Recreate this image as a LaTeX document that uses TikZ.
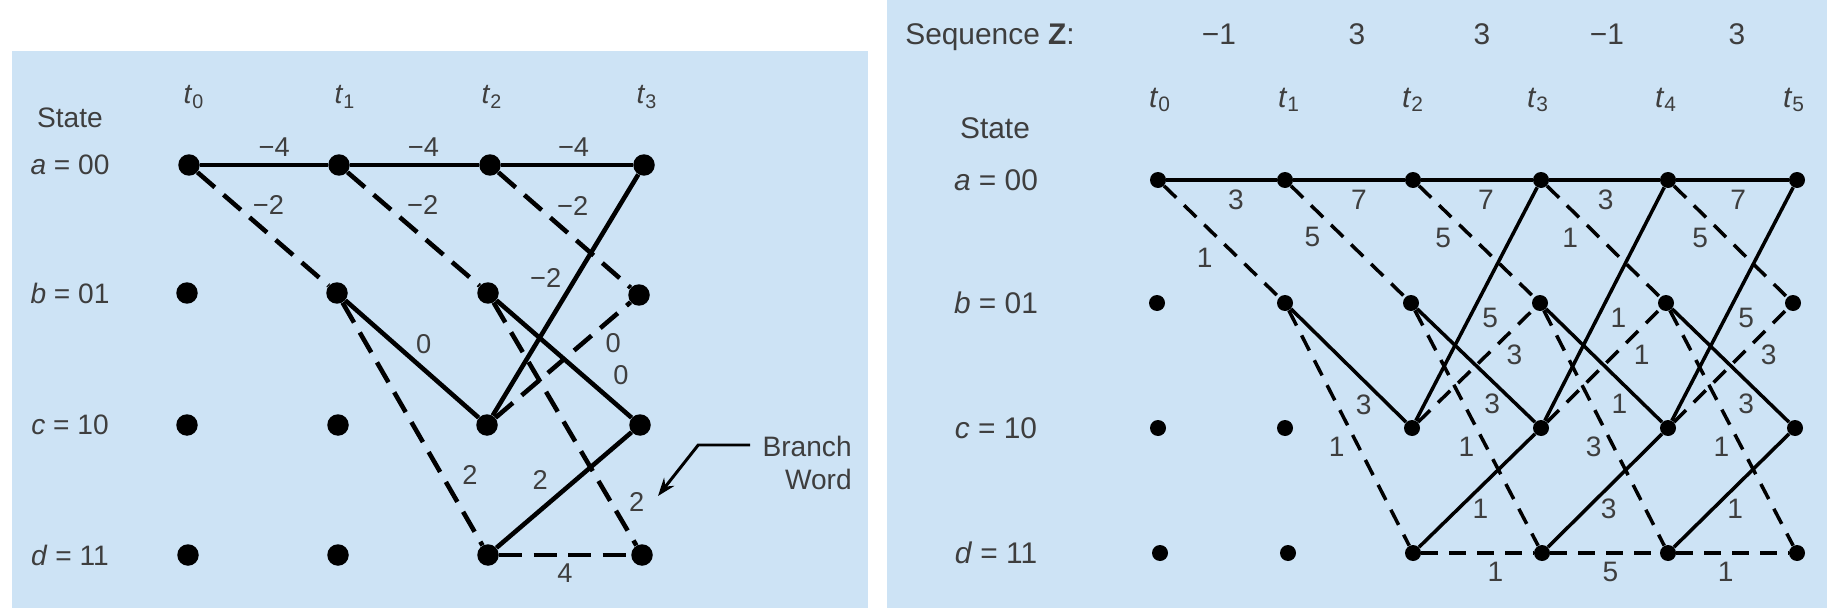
\documentclass[tikz,border=0pt]{standalone}
\usepackage{fontspec}
\setmainfont{Liberation Sans}
\usetikzlibrary{arrows.meta}

\definecolor{panelblue}{RGB}{205,227,245}
\definecolor{inkgray}{RGB}{62,62,62}

\newcommand{\tsub}[1]{\textit{t}\textsubscript{#1}}

\tikzset{
  bigdot/.style={circle,fill=black,inner sep=0pt,minimum size=0.43cm},
  smalldot/.style={circle,fill=black,inner sep=0pt,minimum size=0.32cm},
  caption/.style={text=inkgray,inner sep=0pt,font=\fontsize{16}{19}\selectfont},
  captionR/.style={text=inkgray,inner sep=0pt,font=\fontsize{17}{20}\selectfont},
  word/.style={text=inkgray,inner sep=0pt,font=\fontsize{15.5}{18}\selectfont},
  wordR/.style={text=inkgray,inner sep=0pt,font=\fontsize{16}{19}\selectfont},
  solidL/.style={line width=2.6pt},
  dashL/.style={line width=2.6pt,dash pattern=on 0.46cm off 0.23cm},
  solidR/.style={line width=2pt},
  dashR/.style={line width=2pt,dash pattern=on 0.34cm off 0.22cm},
  pointer/.style={line width=1.7pt,-{Stealth[length=0.36cm,width=0.26cm,inset=0.12cm]}}
}

\begin{document}
\begin{tikzpicture}[x=0.02cm,y=-0.02cm]
\useasboundingbox (0,0) rectangle (1832,608);

% LEFT PANEL
\fill[panelblue] (12,51) rectangle (868,608);
\node[caption] (lstate) at (70,118) {State};
\node[caption] (lrowa) at (70,165) {\textit{a} = 00};
\node[caption] (lrowb) at (70,293) {\textit{b} = 01};
\node[caption] (lrowc) at (70,425) {\textit{c} = 10};
\node[caption] (lrowd) at (70,555) {\textit{d} = 11};
\node[caption] (lt0) at (194,97) {\tsub{0}};
\node[caption] (lt1) at (345,97) {\tsub{1}};
\node[caption] (lt2) at (492,97) {\tsub{2}};
\node[caption] (lt3) at (647,97) {\tsub{3}};

\node[bigdot] (la0) at (189,165) {};
\node[bigdot] (la1) at (339,165) {};
\node[bigdot] (la2) at (490,165) {};
\node[bigdot] (la3) at (644,165) {};
\node[bigdot] (lb0) at (187,293) {};
\node[bigdot] (lb1) at (337,293) {};
\node[bigdot] (lb2) at (488,293) {};
\node[bigdot] (lb3) at (639,295) {};
\node[bigdot] (lc0) at (187,425) {};
\node[bigdot] (lc1) at (338,425) {};
\node[bigdot] (lc2) at (487,425) {};
\node[bigdot] (lc3) at (640,425) {};
\node[bigdot] (ld0) at (188,555) {};
\node[bigdot] (ld1) at (338,555) {};
\node[bigdot] (ld2) at (488,555) {};
\node[bigdot] (ld3) at (642,555) {};

\draw[solidL] (la0) -- node[word,pos=.58,shift={(0,-18)}] {−4} (la1);
\draw[solidL] (la1) -- node[word,pos=.57,shift={(0,-18)}] {−4} (la2);
\draw[solidL] (la2) -- node[word,pos=.55,shift={(0,-18)}] {−4} (la3);
\draw[dashL] (la0) -- node[word,pos=.29,shift={(33,0)}] {−2} (lb1);
\draw[dashL] (la1) -- node[word,pos=.29,shift={(37,0)}] {−2} (lb2);
\draw[dashL] (la2) -- node[word,pos=.29,shift={(36,0)}] {−2} (lb3);
\draw[solidL] (lb1) -- node[word,pos=.37,shift={(29,0)}] {0} (lc2);
\draw[dashL] (lb1) -- node[word,pos=.71,shift={(28,0)}] {2} (ld2);
\draw[solidL] (lb2) -- node[word,pos=.64,shift={(38,0)}] {0} (lc3);
\draw[dashL] (lb2) -- node[word,pos=.82,shift={(26,0)}] (lbw) {2} (ld3);
\draw[solidL] (lc2) -- node[word,pos=.57,shift={(-30,0)}] {−2} (la3);
\draw[dashL] (lc2) -- node[word,pos=.65,shift={(30,0)}] {0} (lb3);
\draw[solidL] (ld2) -- node[word,pos=.59,shift={(-36,0)}] {2} (lc3);
\draw[dashL] (ld2) -- node[word,pos=.5,shift={(0,18)}] {4} (ld3);

\node[caption,align=right,anchor=east] (bword) at (852,463) {Branch\\Word};
\coordinate (bwtip) at (658,496);
\draw[pointer] ([shift={(-12,-18)}]bword.west) -- ++(-52,0) -- (bwtip);

% RIGHT PANEL
\fill[panelblue] (887,0) rectangle (1827,608);
\node[captionR,anchor=base west] (seq) at (905,45) {Sequence \textbf{Z}:};
\node[captionR,anchor=base] (z1) at (1219,45) {−1};
\node[captionR,anchor=base] (z2) at (1357,45) {3};
\node[captionR,anchor=base] (z3) at (1482,45) {3};
\node[captionR,anchor=base] (z4) at (1607,45) {−1};
\node[captionR,anchor=base] (z5) at (1737,45) {3};
\node[captionR] (rstate) at (995,128) {State};
\node[captionR] (rrowa) at (996,180) {\textit{a} = 00};
\node[captionR] (rrowb) at (996,303) {\textit{b} = 01};
\node[captionR] (rrowc) at (996,428) {\textit{c} = 10};
\node[captionR] (rrowd) at (996,553) {\textit{d} = 11};
\node[captionR] (rt0) at (1160,100) {\tsub{0}};
\node[captionR] (rt1) at (1289,100) {\tsub{1}};
\node[captionR] (rt2) at (1413,100) {\tsub{2}};
\node[captionR] (rt3) at (1538,100) {\tsub{3}};
\node[captionR] (rt4) at (1666,100) {\tsub{4}};
\node[captionR] (rt5) at (1794,100) {\tsub{5}};

\node[smalldot] (ra0) at (1158,180) {};
\node[smalldot] (ra1) at (1285,180) {};
\node[smalldot] (ra2) at (1413,180) {};
\node[smalldot] (ra3) at (1541,180) {};
\node[smalldot] (ra4) at (1668,180) {};
\node[smalldot] (ra5) at (1797,180) {};
\node[smalldot] (rb0) at (1157,303) {};
\node[smalldot] (rb1) at (1285,303) {};
\node[smalldot] (rb2) at (1411,303) {};
\node[smalldot] (rb3) at (1540,303) {};
\node[smalldot] (rb4) at (1666,303) {};
\node[smalldot] (rb5) at (1793,303) {};
\node[smalldot] (rc0) at (1158,428) {};
\node[smalldot] (rc1) at (1285,428) {};
\node[smalldot] (rc2) at (1412,428) {};
\node[smalldot] (rc3) at (1541,428) {};
\node[smalldot] (rc4) at (1668,428) {};
\node[smalldot] (rc5) at (1795,428) {};
\node[smalldot] (rd0) at (1160,553) {};
\node[smalldot] (rd1) at (1288,553) {};
\node[smalldot] (rd2) at (1413,553) {};
\node[smalldot] (rd3) at (1542,553) {};
\node[smalldot] (rd4) at (1668,553) {};
\node[smalldot] (rd5) at (1797,553) {};

% t0 to t1
\draw[solidR] (ra0) -- node[wordR,pos=.63,shift={(0,20)}] {3} (ra1);
\draw[dashR] (ra0) -- node[wordR,pos=.65,shift={(-34,0)}] {1} (rb1);
% t1 to t2
\draw[solidR] (ra1) -- node[wordR,pos=.59,shift={(0,20)}] {7} (ra2);
\draw[dashR] (ra1) -- node[wordR,pos=.46,shift={(-31,0)}] {5} (rb2);
\draw[solidR] (rb1) -- node[wordR,pos=.85,shift={(-25,0)}] {3} (rc2);
\draw[dashR] (rb1) -- node[wordR,pos=.58,shift={(-22,0)}] {1} (rd2);
% t2 to t3
\draw[solidR] (ra2) -- node[wordR,pos=.58,shift={(0,20)}] {7} (ra3);
\draw[dashR] (ra2) -- node[wordR,pos=.47,shift={(-30,0)}] {5} (rb3);
\draw[solidR] (rb2) -- node[wordR,pos=.84,shift={(-24,0)}] {3} (rc3);
\draw[dashR] (rb2) -- node[wordR,pos=.58,shift={(-20,0)}] {1} (rd3);
\draw[solidR] (rc2) -- node[wordR,pos=.44,shift={(21,0)}] {5} (ra3);
\draw[dashR] (rc2) -- node[wordR,pos=.59,shift={(28,0)}] {3} (rb3);
\draw[solidR] (rd2) -- node[wordR,pos=.34,shift={(22,0)}] {1} (rc3);
\draw[dashR] (rd2) -- node[wordR,pos=.66,shift={(0,19)}] {1} (rd3);
% t3 to t4
\draw[solidR] (ra3) -- node[wordR,pos=.51,shift={(0,20)}] {3} (ra4);
\draw[dashR] (ra3) -- node[wordR,pos=.47,shift={(-30,0)}] {1} (rb4);
\draw[solidR] (rb3) -- node[wordR,pos=.84,shift={(-24,0)}] {1} (rc4);
\draw[dashR] (rb3) -- node[wordR,pos=.58,shift={(-20,0)}] {3} (rd4);
\draw[solidR] (rc3) -- node[wordR,pos=.44,shift={(21,0)}] {1} (ra4);
\draw[dashR] (rc3) -- node[wordR,pos=.59,shift={(28,0)}] {1} (rb4);
\draw[solidR] (rd3) -- node[wordR,pos=.34,shift={(22,0)}] {3} (rc4);
\draw[dashR] (rd3) -- node[wordR,pos=.55,shift={(0,19)}] {5} (rd4);
% t4 to t5
\draw[solidR] (ra4) -- node[wordR,pos=.55,shift={(0,20)}] {7} (ra5);
\draw[dashR] (ra4) -- node[wordR,pos=.47,shift={(-27,0)}] {5} (rb5);
\draw[solidR] (rb4) -- node[wordR,pos=.84,shift={(-24,0)}] {3} (rc5);
\draw[dashR] (rb4) -- node[wordR,pos=.58,shift={(-20,0)}] {1} (rd5);
\draw[solidR] (rc4) -- node[wordR,pos=.44,shift={(21,0)}] {5} (ra5);
\draw[dashR] (rc4) -- node[wordR,pos=.59,shift={(28,0)}] {3} (rb5);
\draw[solidR] (rd4) -- node[wordR,pos=.34,shift={(22,0)}] {1} (rc5);
\draw[dashR] (rd4) -- node[wordR,pos=.44,shift={(0,19)}] {1} (rd5);

\end{tikzpicture}
\end{document}
